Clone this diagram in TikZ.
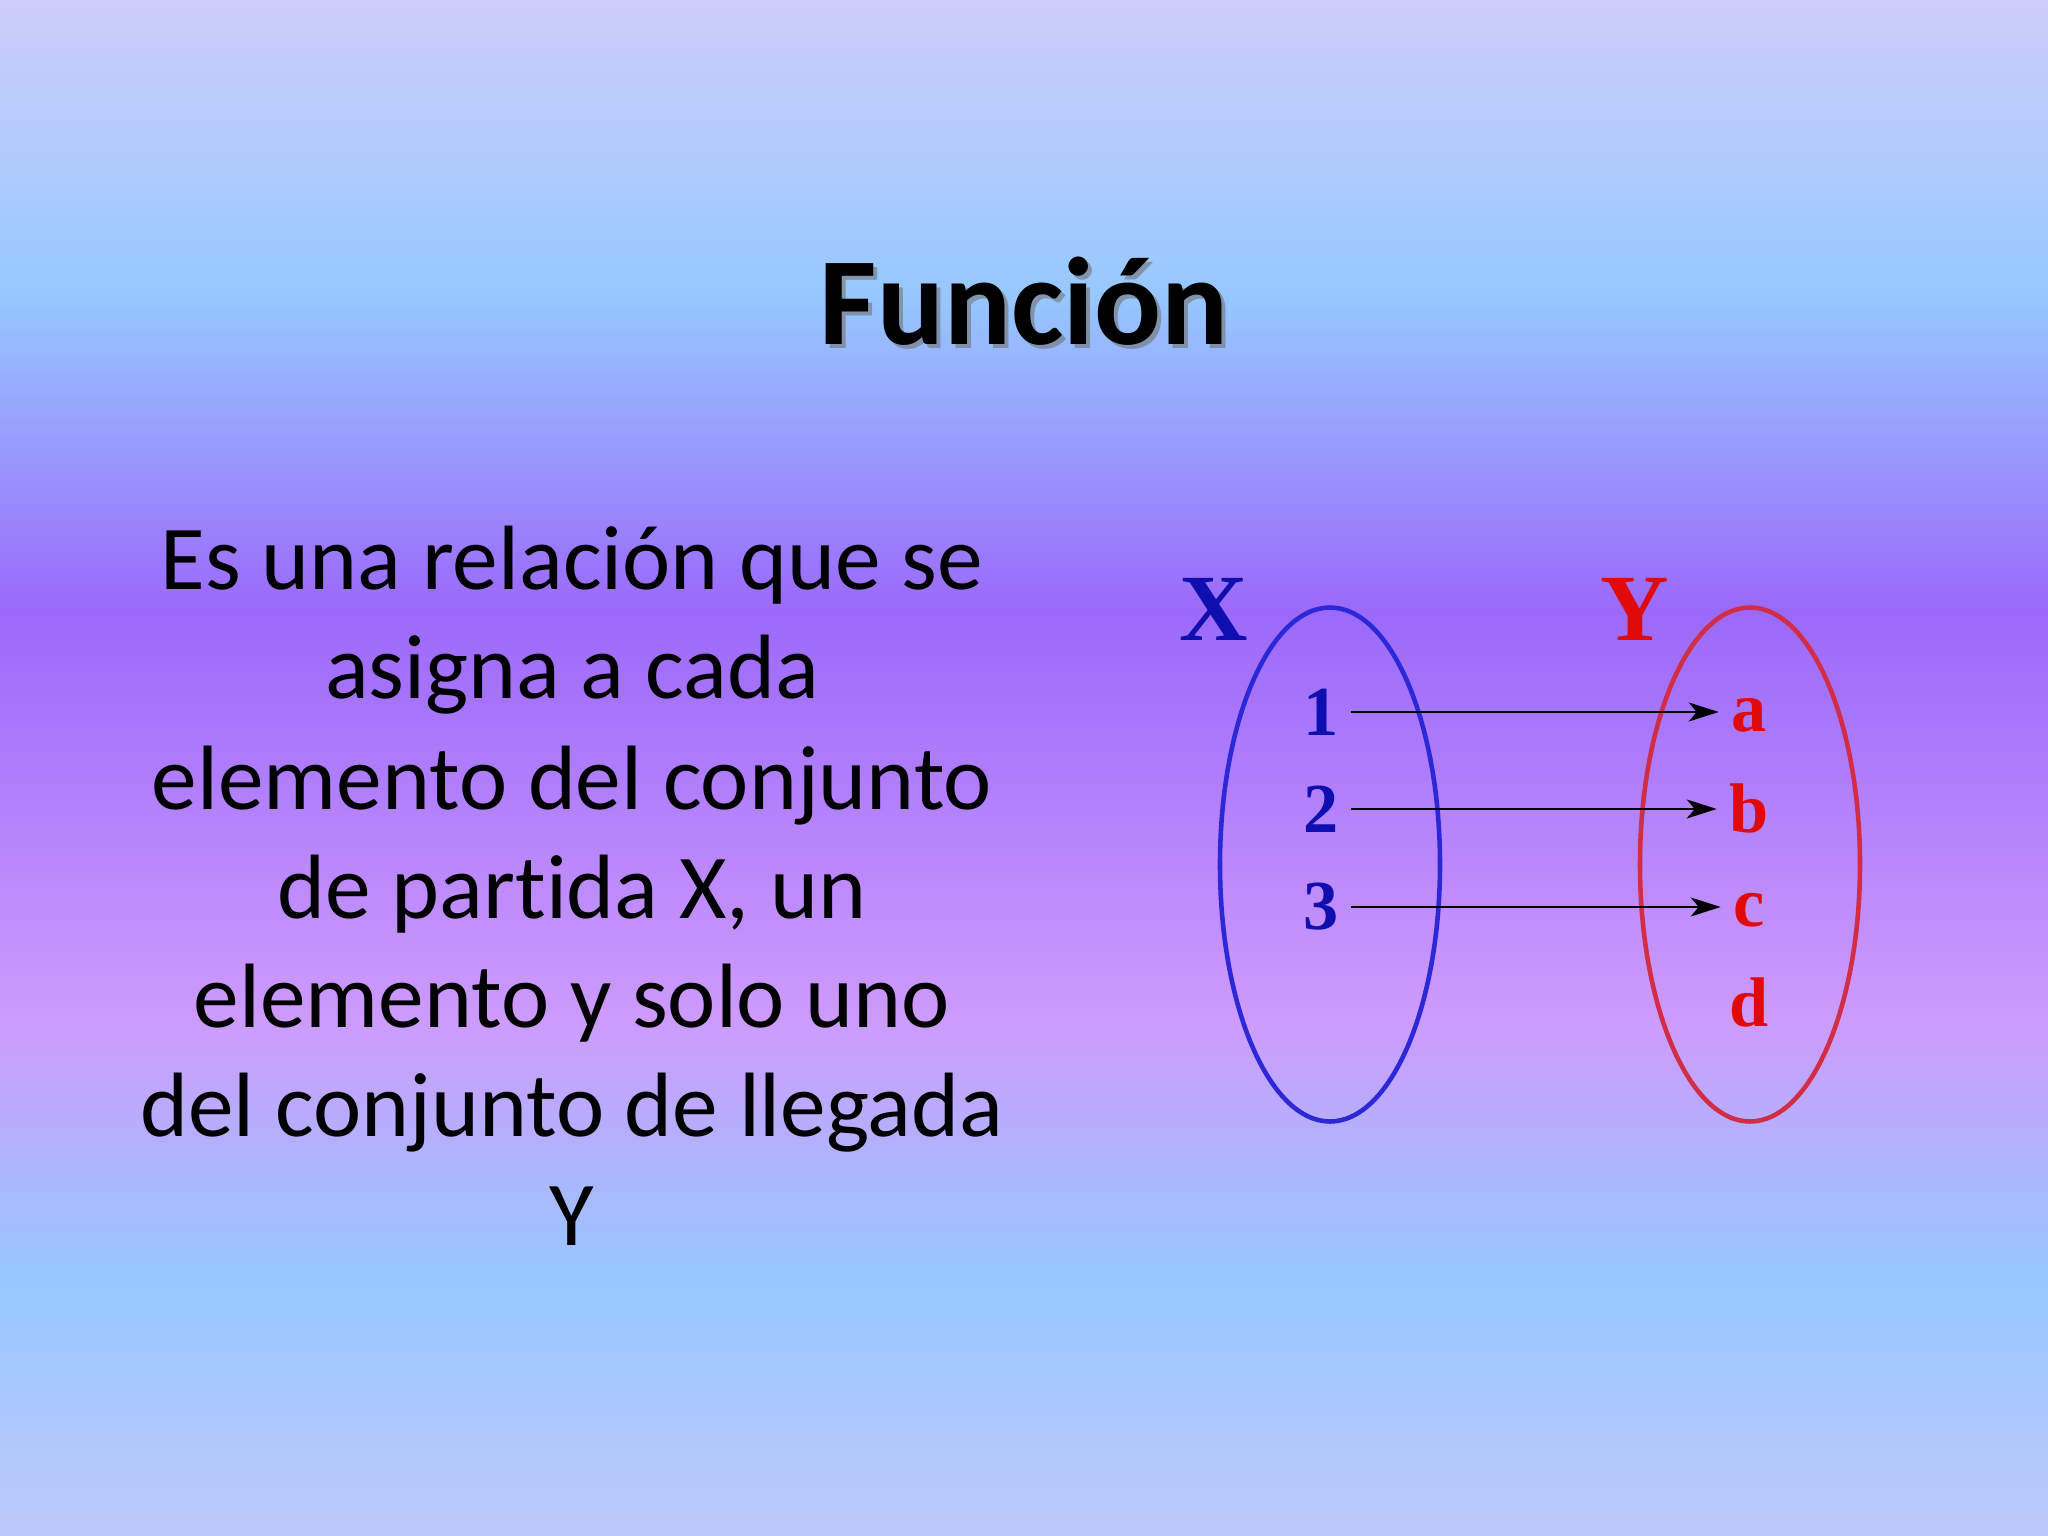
\documentclass[tikz,border=0pt]{standalone}
\usepackage{fontspec}
\setmainfont{Carlito}[Ligatures=NoCommon]
\newfontfamily\setfont{Liberation Serif}
\usetikzlibrary{shapes.geometric,arrows.meta}
\definecolor{bgA}{RGB}{205,205,250}
\definecolor{bgB}{RGB}{150,200,255}
\definecolor{bgC}{RGB}{155,105,250}
\definecolor{bgD}{RGB}{205,155,252}
\definecolor{bgE}{RGB}{150,200,255}
\definecolor{bgF}{RGB}{190,200,250}
\definecolor{xblue}{RGB}{15,15,175}
\definecolor{xring}{RGB}{45,40,215}
\definecolor{yred}{RGB}{225,10,10}
\definecolor{yring}{RGB}{210,45,70}
\tikzset{
  bodyline/.style={anchor=base, font=\fontsize{26}{31}\selectfont, text=black, inner sep=0pt},
  setlabel/.style={font=\setfont\bfseries\fontsize{27}{31}\selectfont, inner sep=0pt},
  elem/.style={font=\setfont\bfseries\fontsize{20}{24}\selectfont, inner sep=0.12cm},
  ring/.style={draw, ellipse, line width=1.3pt, minimum width=2.2cm, minimum height=5.14cm, inner sep=0pt, outer sep=0pt},
  maparrow/.style={line width=0.65pt, -{Stealth[length=0.3cm, width=0.19cm, inset=0.08cm]}}
}
\begin{document}
\begin{tikzpicture}[x=1cm,y=1cm]
\useasboundingbox (0,0) rectangle (20.48,-15.36);
% background gradient
\shade[top color=bgA, bottom color=bgB] (0,0) rectangle (20.48,-2.95);
\shade[top color=bgB, bottom color=bgC] (0,-2.95) rectangle (20.48,-6.10);
\shade[top color=bgC, bottom color=bgD] (0,-6.10) rectangle (20.48,-10.20);
\shade[top color=bgD, bottom color=bgE] (0,-10.20) rectangle (20.48,-12.80);
\shade[top color=bgE, bottom color=bgF] (0,-12.80) rectangle (20.48,-15.36);
% title with shadow
\node[anchor=base, font=\fontsize{35.5}{40}\selectfont\bfseries, text=black!55, opacity=0.6, inner sep=0pt] (tshadow) at (10.28,-3.49) {Función};
\node[anchor=base, font=\fontsize{35.5}{40}\selectfont\bfseries, text=black, inner sep=0pt] (title) at (10.24,-3.45) {Función};
% body text
\node[bodyline] (l1) at (5.72,-5.90) {Es una relación que se};
\node[bodyline] (l2) at (5.72,-6.99) {asigna a cada};
\node[bodyline] (l3) at (5.72,-8.09) {elemento del conjunto};
\node[bodyline] (l4) at (5.72,-9.18) {de partida X, un};
\node[bodyline] (l5) at (5.72,-10.27) {elemento y solo uno};
\node[bodyline] (l6) at (5.72,-11.36) {del conjunto de llegada};
\node[bodyline] (l7) at (5.72,-12.45) {Y};
% sets
\node[ring, draw=xring] (X) at (13.30,-8.645) {};
\node[ring, draw=yring] (Y) at (17.50,-8.645) {};
\node[setlabel, text=xblue] (xl) at (12.14,-6.09) {X};
\node[setlabel, text=yred] (yl) at (16.35,-6.09) {Y};
% elements
\node[elem, text=xblue] (n1) at (13.21,-7.12) {1};
\node[elem, text=xblue] (n2) at (13.21,-8.09) {2};
\node[elem, text=xblue] (n3) at (13.21,-9.07) {3};
\node[elem, text=yred] (ea) at (17.49,-7.15) {a};
\node[elem, text=yred] (eb) at (17.49,-8.08) {b};
\node[elem, text=yred] (ec) at (17.49,-9.10) {c};
\node[elem, text=yred] (ed) at (17.49,-10.02) {d};
% mappings
\draw[maparrow] (n1.east) -- (n1.east -| ea.west);
\draw[maparrow] (n2.east) -- (n2.east -| eb.west);
\draw[maparrow] (n3.east) -- (n3.east -| ec.west);
\end{tikzpicture}
\end{document}
